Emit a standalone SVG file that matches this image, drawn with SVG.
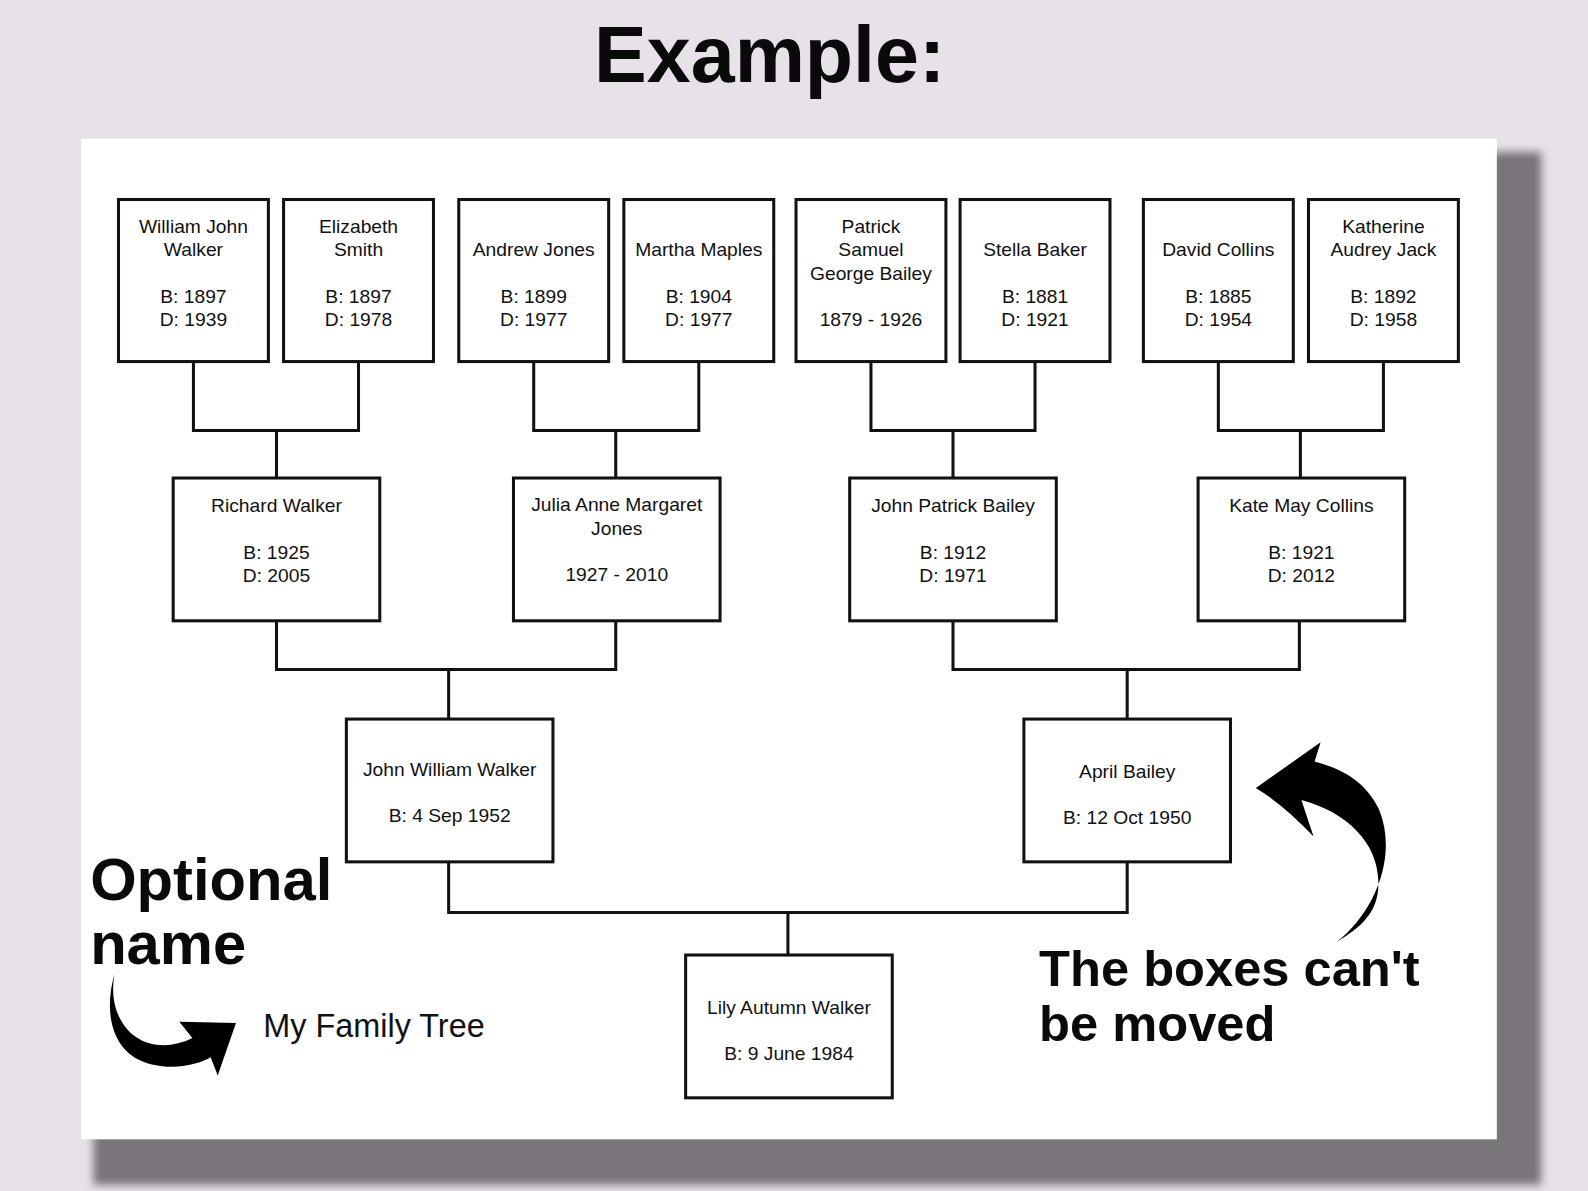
<svg xmlns="http://www.w3.org/2000/svg" width="1588" height="1191" viewBox="0 0 1588 1191">
<defs>
<style>
.b{fill:#fff;stroke:#111;stroke-width:3}
.t{font-family:"Liberation Sans",Arial,sans-serif;font-size:19px;fill:#111;text-anchor:middle}
.c{fill:none;stroke:#111;stroke-width:3}
.h{font-family:"Liberation Sans",Arial,sans-serif;font-weight:bold;fill:#0a0a0a}
</style>
<filter id="bl" x="-5%" y="-5%" width="110%" height="110%"><feGaussianBlur stdDeviation="4"/></filter>
</defs>
<rect width="1588" height="1191" fill="#e8e1ea"/>
<g transform="scale(1.012755)">
<rect x="92" y="150" width="1430" height="1020" fill="#7a757a" filter="url(#bl)"/>
<rect x="80" y="137" width="1398" height="988" fill="#fff"/>
<text class="h" x="760" y="81" font-size="78" text-anchor="middle">Example:</text>
<g id="connectors">
<path class="c" d="M191,357V425H354V357M273,425V472M527,357V425H690V357M608,425V472M860,357V425H1022V357M941,425V472M1203,357V425H1366V357M1284,425V472"/>
<path class="c" d="M273,613V661H608V613M443,661V710M941,613V661H1283V613M1113,661V710"/>
<path class="c" d="M443,851V901H1113V851M778,901V943"/>
</g>
<g id="n1"><rect class="b" x="117" y="197" width="148" height="160"/><text class="t"><tspan x="191" y="230">William John</tspan><tspan x="191" y="253">Walker</tspan><tspan x="191" y="299">B: 1897</tspan><tspan x="191" y="322">D: 1939</tspan></text></g>
<g id="n2"><rect class="b" x="280" y="197" width="148" height="160"/><text class="t"><tspan x="354" y="230">Elizabeth</tspan><tspan x="354" y="253">Smith</tspan><tspan x="354" y="299">B: 1897</tspan><tspan x="354" y="322">D: 1978</tspan></text></g>
<g id="n3"><rect class="b" x="453" y="197" width="148" height="160"/><text class="t"><tspan x="527" y="253">Andrew Jones</tspan><tspan x="527" y="299">B: 1899</tspan><tspan x="527" y="322">D: 1977</tspan></text></g>
<g id="n4"><rect class="b" x="616" y="197" width="148" height="160"/><text class="t"><tspan x="690" y="253">Martha Maples</tspan><tspan x="690" y="299">B: 1904</tspan><tspan x="690" y="322">D: 1977</tspan></text></g>
<g id="n5"><rect class="b" x="786" y="197" width="148" height="160"/><text class="t"><tspan x="860" y="230">Patrick</tspan><tspan x="860" y="253">Samuel</tspan><tspan x="860" y="276">George Bailey</tspan><tspan x="860" y="322">1879 - 1926</tspan></text></g>
<g id="n6"><rect class="b" x="948" y="197" width="148" height="160"/><text class="t"><tspan x="1022" y="253">Stella Baker</tspan><tspan x="1022" y="299">B: 1881</tspan><tspan x="1022" y="322">D: 1921</tspan></text></g>
<g id="n7"><rect class="b" x="1129" y="197" width="148" height="160"/><text class="t"><tspan x="1203" y="253">David Collins</tspan><tspan x="1203" y="299">B: 1885</tspan><tspan x="1203" y="322">D: 1954</tspan></text></g>
<g id="n8"><rect class="b" x="1292" y="197" width="148" height="160"/><text class="t"><tspan x="1366" y="230">Katherine</tspan><tspan x="1366" y="253">Audrey Jack</tspan><tspan x="1366" y="299">B: 1892</tspan><tspan x="1366" y="322">D: 1958</tspan></text></g>
<g id="n9"><rect class="b" x="171" y="472" width="204" height="141"/><text class="t"><tspan x="273" y="506">Richard Walker</tspan><tspan x="273" y="552">B: 1925</tspan><tspan x="273" y="575">D: 2005</tspan></text></g>
<g id="n10"><rect class="b" x="507" y="472" width="204" height="141"/><text class="t"><tspan x="609" y="505">Julia Anne Margaret</tspan><tspan x="609" y="528">Jones</tspan><tspan x="609" y="574">1927 - 2010</tspan></text></g>
<g id="n11"><rect class="b" x="839" y="472" width="204" height="141"/><text class="t"><tspan x="941" y="506">John Patrick Bailey</tspan><tspan x="941" y="552">B: 1912</tspan><tspan x="941" y="575">D: 1971</tspan></text></g>
<g id="n12"><rect class="b" x="1183" y="472" width="204" height="141"/><text class="t"><tspan x="1285" y="506">Kate May Collins</tspan><tspan x="1285" y="552">B: 1921</tspan><tspan x="1285" y="575">D: 2012</tspan></text></g>
<g id="n13"><rect class="b" x="342" y="710" width="204" height="141"/><text class="t"><tspan x="444" y="766">John William Walker</tspan><tspan x="444" y="812">B: 4 Sep 1952</tspan></text></g>
<g id="n14"><rect class="b" x="1011" y="710" width="204" height="141"/><text class="t"><tspan x="1113" y="768">April Bailey</tspan><tspan x="1113" y="814">B: 12 Oct 1950</tspan></text></g>
<g id="n15"><rect class="b" x="677" y="943" width="204" height="141"/><text class="t"><tspan x="779" y="1001">Lily Autumn Walker</tspan><tspan x="779" y="1047">B: 9 June 1984</tspan></text></g>
<text class="h" font-size="59"><tspan x="89" y="889">Optional</tspan><tspan x="89" y="952">name</tspan></text>
<text x="260" y="1024" font-family="Liberation Sans,Arial,sans-serif" font-size="32" fill="#111">My Family Tree</text>
<text class="h" font-size="50"><tspan x="1026" y="974">The boxes can't</tspan><tspan x="1026" y="1028">be moved</tspan></text>
<path fill="#000" d="M113,962C102,1000 110,1042 150,1051C176,1057 198,1050 208,1044L215,1062L233,1010L177,1009L190,1025C168,1036 145,1034 129,1020C114,1005 109,985 113,962Z"/>
<path fill="#000" d="M1320,930C1358,900 1380,845 1362,800C1348,770 1322,758 1298,752L1304,733L1240,778Q1268,795 1297,826L1285,790C1330,802 1360,832 1361,870C1362,900 1345,915 1320,930Z"/>
</g>
</svg>
